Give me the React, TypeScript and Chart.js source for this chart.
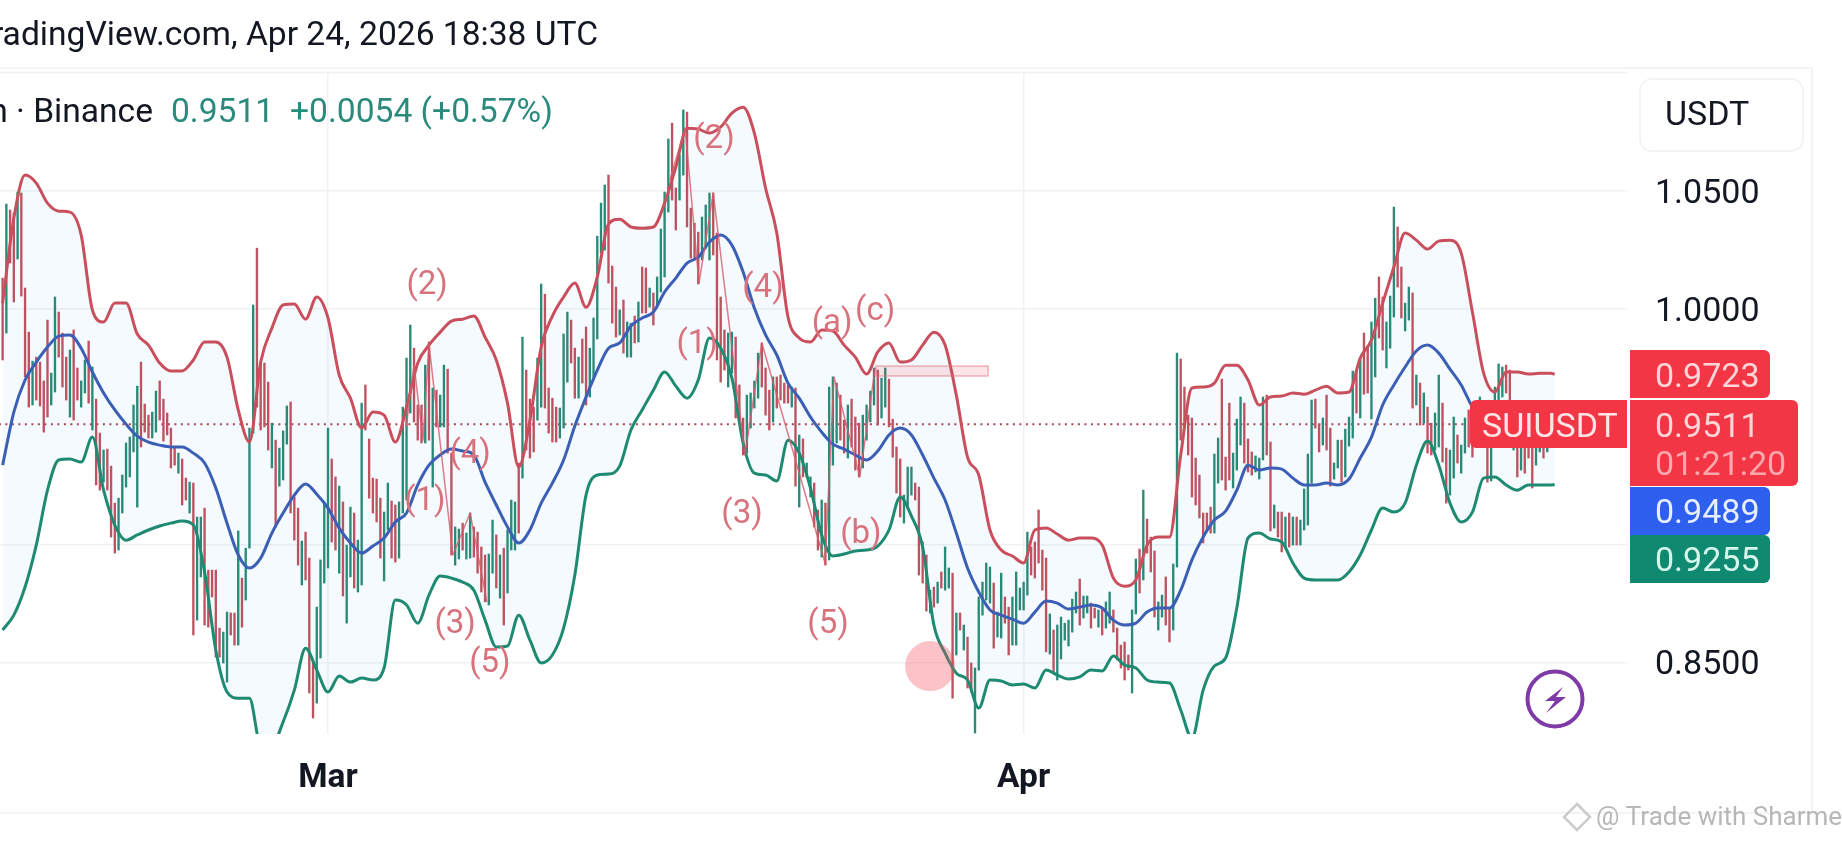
import React, { useEffect, useRef } from "react";
import { Chart, registerables } from "chart.js";

Chart.register(...registerables);

const firstBar = -87; // bars are 4h apart, counted from 1 Mar
const barHigh = [
1.0131,1.0445,1.0420,1.0407,1.0496,1.0492,1.0089,.9902,.9779,.9796,
.9775,.9695,.9953,.9728,1.0051,.9987,.9898,.9796,.9826,.9911,
.9750,.9695,.9784,.9864,.9754,.9618,.9474,.9402,.9406,.9334,
.9177,.9198,.9296,.9432,.9457,.9593,.9673,.9775,.9597,.9550,
.9563,.9652,.9695,.9618,.9559,.9495,.9415,.9389,.9364,.9283,
.9266,.9262,.9118,.9118,.9156,.8893,.8893,.8893,.8647,.8630,
.8715,.8711,.8711,.9059,.8859,.8986,.9495,1.0017,1.0258,.9775,
.9771,.9690,.9516,.9444,.9410,.9483,.9589,.9606,.9203,.9156,
.9016,.9054,.8944,.8499,.8736,.8936,.9177,.9495,.9364,.9288,
.9249,.9182,.8999,.9160,.9135,.9020,.9601,.9678,.9449,.9283,
.9279,.9198,.9139,.9262,.9186,.9169,.9182,.9584,.9792,.9932,
.9834,.9593,.9593,.9762,.9860,.9665,.9656,.9635,.9762,.9745,
.9389,.9076,.9067,.9092,.9050,.9135,.9076,.9054,.8991,.8957,
.8961,.9105,.9042,.8957,.8986,.9063,.9190,.9182,.9347,.9881,
.9741,.9618,.9584,.9792,1.0106,1.0063,.9665,.9622,.9584,.9580,
.9894,.9987,.9953,.9834,.9796,.9873,.9924,.9834,.9962,1.0309,
1.0449,1.0526,1.0568,1.0182,1.0093,.9996,1.0038,.9945,.9940,.9970,
1.0030,1.0178,1.0174,1.0089,1.0068,1.0136,1.0339,1.0496,1.0721,1.0788,
1.0513,1.0653,1.0844,1.0835,1.0428,1.0364,1.0326,1.0390,1.0441,1.0492,
1.0492,1.0322,1.0051,.9911,.9898,.9902,.9881,.9678,.9538,.9635,
.9644,.9695,.9813,.9856,.9750,.9656,.9712,.9712,.9720,.9686,
.9678,.9669,.9665,.9466,.9449,.9347,.9288,.9262,.9148,.9190,
.9177,.9669,.9712,.9686,.9635,.9529,.9593,.9618,.9542,.9516,
.9550,.9593,.9652,.9750,.9741,.9707,.9750,.9703,.9533,.9415,
.9364,.9211,.9330,.9330,.9262,.9245,.9012,.8957,.8808,.8821,
.8842,.8885,.8991,.8902,.8880,.8711,.8711,.8660,.8609,.8499,
.8478,.8779,.8842,.8923,.8906,.8838,.8715,.8880,.8779,.8736,
.8779,.8885,.8817,.8842,.9054,.8991,.9012,.9148,.8978,.8944,
.8707,.8639,.8660,.8694,.8668,.8681,.8770,.8800,.8855,.8783,
.8783,.8753,.8732,.8724,.8732,.8758,.8800,.8724,.8647,.8575,
.8588,.8533,.8724,.8940,.8982,.9232,.9109,.9033,.8974,.8758,
.8787,.8864,.8732,.8919,.9813,.9788,.9669,.9550,.9538,.9368,
.9296,.9135,.9135,.9160,.9385,.9453,.9703,.9372,.9601,.9389,
.9533,.9627,.9601,.9449,.9394,.9377,.9368,.9627,.9635,.9436,
.9169,.9139,.9139,.9118,.9135,.9118,.9118,.9105,.9237,.9385,
.9614,.9618,.9512,.9538,.9635,.9495,.9347,.9444,.9444,.9491,
.9542,.9737,.9733,.9784,.9898,.9839,.9945,1.0046,1.0136,1.0051,
.9945,1.0055,1.0432,1.0348,1.0178,1.0025,1.0093,1.0068,.9720,.9686,
.9644,.9584,.9516,.9559,.9720,.9601,.9410,.9402,.9542,.9466,
.9423,.9538,.9572,.9516,.9601,.9627,.9572,.9516,.9584,.9669,
.9767,.9754,.9762,.9741,.9572,.9508,.9508,.9487,.9487,.9487,
.9487,.9466,.9487,.9466,.9512];
const barLow = [
.9784,.9898,1.0195,1.0030,1.0212,1.0055,.9712,.9584,.9593,.9614,
.9589,.9478,.9542,.9593,.9648,.9796,.9669,.9614,.9542,.9529,
.9614,.9584,.9644,.9601,.9487,.9254,.9232,.9266,.9232,.9033,
.8965,.8978,.9135,.9245,.9288,.9394,.9160,.9415,.9478,.9453,
.9453,.9478,.9529,.9440,.9466,.9326,.9338,.9304,.9169,.9190,
.9135,.8618,.8681,.8864,.8660,.8651,.8779,.8524,.8524,.8499,
.8418,.8618,.8575,.8575,.8651,.8766,.8986,.9474,.9584,.9487,
.9500,.9402,.9326,.9076,.9249,.9275,.9427,.9135,.9020,.8914,
.8830,.8851,.8372,.8266,.8329,.8520,.8838,.8902,.9012,.8978,
.8880,.8783,.8668,.8864,.8817,.8800,.8830,.9487,.9198,.9135,
.9097,.8944,.8847,.9063,.8944,.8927,.8944,.9135,.9190,.9559,
.9521,.9444,.9432,.9432,.9444,.9245,.9500,.9500,.9500,.9389,
.8957,.8914,.8940,.8978,.8940,.8944,.8948,.8880,.8800,.8758,
.8745,.8880,.8817,.8774,.8660,.8796,.8978,.8978,.9050,.9283,
.9402,.9368,.9394,.9529,.9584,.9580,.9474,.9436,.9436,.9453,
.9495,.9690,.9771,.9622,.9622,.9686,.9593,.9627,.9712,.9873,
1.0237,1.0250,1.0110,.9940,.9881,.9890,.9813,.9796,.9796,.9856,
.9860,.9983,.9983,1.0008,.9932,1.0008,1.0072,1.0136,1.0411,1.0462,
1.0335,1.0462,1.0568,1.0348,1.0216,1.0216,1.0106,1.0208,1.0258,1.0208,
1.0229,.9784,.9690,.9741,.9669,.9728,.9538,.9538,.9381,.9389,
.9495,.9580,.9622,.9669,.9550,.9487,.9521,.9580,.9614,.9601,
.9601,.9584,.9249,.9160,.9288,.9288,.9203,.9076,.8978,.8948,
.8914,.8936,.9338,.9432,.9444,.9389,.9368,.9415,.9317,.9288,
.9326,.9444,.9521,.9593,.9508,.9538,.9584,.9500,.9372,.9220,
.9118,.9092,.9156,.9211,.9190,.8872,.8838,.8719,.8711,.8736,
.8753,.8817,.8808,.8817,.8350,.8533,.8639,.8554,.8393,.8376,
.8202,.8469,.8702,.8766,.8753,.8562,.8609,.8605,.8668,.8533,
.8575,.8575,.8724,.8724,.8787,.8872,.8859,.8923,.8808,.8546,
.8537,.8456,.8427,.8516,.8596,.8571,.8630,.8711,.8660,.8690,
.8711,.8647,.8690,.8651,.8618,.8647,.8668,.8630,.8512,.8478,
.8427,.8469,.8372,.8707,.8796,.8851,.8965,.8885,.8694,.8639,
.8694,.8660,.8588,.8639,.8906,.9444,.9500,.9381,.9203,.9169,
.9114,.9008,.9063,.9050,.9050,.9262,.9275,.9232,.9275,.9241,
.9317,.9423,.9347,.9309,.9296,.9309,.9279,.9360,.9381,.9059,
.9071,.9033,.8970,.8991,.8991,.8999,.8999,.8999,.9063,.9084,
.9262,.9495,.9394,.9423,.9402,.9249,.9279,.9326,.9266,.9288,
.9419,.9453,.9559,.9538,.9639,.9644,.9534,.9712,.9877,.9826,
.9750,.9834,.9966,1.0093,.9962,.9907,.9953,.9580,.9593,.9508,
.9516,.9389,.9381,.9402,.9415,.9351,.9177,.9211,.9283,.9347,
.9304,.9389,.9415,.9372,.9415,.9516,.9444,.9266,.9271,.9516,
.9584,.9627,.9644,.9444,.9402,.9288,.9317,.9304,.9368,.9241,
.9338,.9394,.9368,.9394,.9423];
const barUp = [
0,1,0,0,1,0,0,0,1,0, 0,0,0,1,1,0,0,0,1,0, 0,1,1,0,1,0,0,1,0,0, 0,1,1,1,1,1,1,0,0,0,
1,1,0,0,0,0,0,1,0,0, 1,0,1,1,0,0,0,0,0,1, 1,0,0,1,0,1,1,1,0,0, 0,0,1,0,1,1,1,0,0,0,
1,0,0,0,1,1,1,1,0,0, 1,0,1,1,0,1,1,0,0,0, 0,0,1,1,0,0,1,1,1,1, 0,0,0,1,0,1,0,1,1,0,
0,1,1,0,1,1,0,0,0,0, 1,1,0,1,0,1,1,1,0,1, 0,0,0,1,1,0,0,0,0,1, 1,1,0,0,1,0,0,1,1,1,
1,1,0,0,0,1,0,1,1,0, 1,0,0,1,0,1,1,1,1,0, 0,1,1,0,0,0,0,1,1,1, 0,0,0,0,1,1,0,0,0,1,
1,1,1,0,0,0,1,0,0,0, 0,1,0,1,0,1,1,0,0,1, 0,1,1,1,0,0,1,0,0,0, 1,1,1,1,0,1,1,0,0,0,
0,1,1,1,0,0,0,0,1,0, 1,0,1,1,0,1,0,1,0,0, 1,1,1,1,1,0,1,1,0,0, 1,1,1,1,1,0,0,0,0,0,
1,0,1,1,1,1,1,1,0,1, 1,0,0,1,0,1,1,0,0,0, 0,0,1,1,0,1,0,0,0,1, 1,0,0,1,1,0,0,0,0,0,
0,0,0,0,1,1,0,0,0,1, 1,1,0,0,0,1,1,1,0,0, 1,0,0,1,0,1,0,1,1,1, 1,0,0,1,0,0,1,1,0,1,
1,1,0,1,0,0,1,1,0,0, 1,1,1,0,0,1,1,0,1,0, 1,0,0,1,1,0,0,1,1,0, 1,1,0,0,1,1,1,0,1,1,
1,1,0,0,1,0,1,0,0,0, 1,1,0,1,1];

const bandUpper = [
1.0025,1.0386,1.0568,1.0534,1.0449,1.0415,1.0411,1.0314,.9996,.9945,
1.0025,1.0025,.9894,.9847,.9771,.9737,.9737,.9784,.9860,.9860,
.9796,.9572,.9436,.9775,.9919,1.0017,1.0021,.9957,1.0051,.9962,
.9720,.9622,.9495,.9563,.9550,.9436,.9584,.9771,.9847,.9902,
.9949,.9957,.9970,.9881,.9784,.9601,.9330,.9529,.9839,.9970,
1.0051,1.0110,1.0008,1.0136,1.0360,1.0381,1.0348,1.0343,1.0348,1.0449,
1.0602,1.0767,1.0763,1.0746,1.0772,1.0831,1.0856,1.0746,1.0513,1.0322,
.9966,.9877,.9860,.9911,.9907,.9847,.9796,.9724,.9818,.9856,
.9775,.9784,.9847,.9902,.9847,.9635,.9372,.9296,.9063,.8978,
.8953,.8923,.9063,.9071,.9046,.9020,.9029,.9029,.8999,.8859,
.8825,.8851,.8999,.9033,.9033,.9381,.9665,.9669,.9686,.9762,
.9762,.9699,.9593,.9627,.9631,.9644,.9639,.9656,.9673,.9644,
.9648,.9792,.9868,1.0025,1.0178,1.0322,1.0292,1.0254,1.0288,1.0292,
1.0237,.9987,.9728,.9648,.9733,.9733,.9724,.9728,.9728,.9723];
const bandBasis = [
.9338,.9563,.9699,.9775,.9839,.9885,.9890,.9834,.9733,.9644,
.9572,.9512,.9461,.9436,.9423,.9415,.9415,.9389,.9347,.9241,
.9092,.8957,.8902,.8944,.9050,.9135,.9211,.9258,.9215,.9156,
.9071,.9008,.8965,.8995,.9029,.9097,.9135,.9254,.9338,.9381,
.9406,.9398,.9381,.9266,.9169,.9076,.9008,.9063,.9177,.9262,
.9360,.9504,.9627,.9741,.9834,.9856,.9928,.9962,.9987,1.0072,
1.0131,1.0195,1.0220,1.0284,1.0314,1.0271,1.0157,1.0004,.9890,.9805,
.9686,.9622,.9542,.9478,.9427,.9406,.9381,.9360,.9398,.9466,
.9495,.9466,.9381,.9283,.9190,.9050,.8902,.8800,.8724,.8702,
.8685,.8668,.8715,.8762,.8753,.8728,.8736,.8745,.8732,.8681,
.8660,.8668,.8715,.8732,.8732,.8808,.8936,.9033,.9105,.9143,
.9232,.9338,.9317,.9326,.9321,.9283,.9254,.9254,.9262,.9254,
.9279,.9368,.9457,.9593,.9678,.9754,.9822,.9847,.9813,.9745,
.9678,.9584,.9529,.9495,.9483,.9483,.9487,.9487,.9489,.9489];
const bandLower = [
.8639,.8702,.8821,.8999,.9232,.9360,.9364,.9351,.9457,.9232,
.9084,.9020,.9042,.9063,.9080,.9092,.9101,.9084,.8885,.8554,
.8376,.8350,.8350,.8151,.8151,.8249,.8384,.8562,.8469,.8376,
.8444,.8418,.8435,.8427,.8478,.8766,.8745,.8668,.8787,.8868,
.8859,.8842,.8808,.8681,.8567,.8571,.8702,.8596,.8499,.8533,
.8647,.8872,.9211,.9296,.9300,.9334,.9487,.9572,.9656,.9733,
.9673,.9622,.9699,.9877,.9834,.9707,.9432,.9304,.9296,.9271,
.9444,.9389,.9241,.9042,.8953,.8961,.8974,.8978,.8995,.9063,
.9203,.9122,.8991,.8660,.8541,.8456,.8427,.8308,.8427,.8423,
.8406,.8410,.8393,.8469,.8448,.8431,.8440,.8469,.8465,.8529,
.8490,.8478,.8427,.8418,.8414,.8300,.8181,.8384,.8486,.8520,
.8732,.9029,.9050,.9025,.9012,.8923,.8859,.8851,.8851,.8851,
.8885,.8957,.9063,.9156,.9139,.9177,.9338,.9440,.9338,.9177,
.9097,.9139,.9283,.9288,.9254,.9232,.9254,.9254,.9254,.9255];

const waveOneX = [20.9, 23, 25.4, 27, 33.4, 38, 42.5];
const waveOneY = [.9500, .9762, .9444, .9851, .8957, .9135, .8758];
const waveTwoX = [91.4, 95.5, 99.2, 103, 111.5, 116, 132.9, 135.3, 142.2, 146.3];
const waveTwoY = [1.0547, 1.0767, 1.0110, 1.0492, .9381, .9856, .8923, .9712, .9288, .9750];

const waveText = ["(2)", "(1)", "(4)", "(3)", "(5)", "(2)", "(1)", "(4)", "(3)", "(a)", "(c)", "(b)", "(5)"];
const waveTextX = [26.5, 25.9, 38, 34, 43.3, 103.2, 98.7, 116.3, 110.7, 134.8, 146.3, 142.5, 133.7];
const waveTextY = [1.0106, .9190, .9389, .8668, .8503, 1.0725, .9856, 1.0093, .9135, .9945, .9996, .9050, .8668];

const lastPrice = 0.9511;
const yTicks = [0.85, 0.9, 1.0, 1.05];
const timeTicks = [0, 186];
const timeLabels = ["Mar", "Apr"];
const zoneX = [146.5, 176.5];
const zoneY = [0.9758, 0.9716];
const markerX = 161;
const markerY = 0.8486;

const FONT = "Roboto, sans-serif";
const RED = "#c94f5d";
const GREEN = "#1f8a72";
const BLUE = "#3c5fb6";
const BAR_RED = "#bd5360";
const BAR_GREEN = "#2a8a78";
const GRID = "#f0f1f3";

function rr(ctx: CanvasRenderingContext2D, x: number, y: number, w: number, h: number, r: number[]) {
  ctx.beginPath();
  ctx.roundRect(x, y, w, h, r);
}

function tag(ctx: CanvasRenderingContext2D, x: number, y: number, w: number, h: number, fill: string, r: number[]) {
  ctx.fillStyle = fill;
  rr(ctx, x, y, w, h, r);
  ctx.fill();
}

const overlay = {
  id: "overlay",
  afterDatasetsDraw(chart: any) {
    const { ctx, scales, chartArea } = chart;
    const sx = scales.x;
    const sy = scales.y;
    ctx.save();
    ctx.beginPath();
    ctx.rect(chartArea.left, chartArea.top, chartArea.right - chartArea.left, chartArea.bottom - chartArea.top);
    ctx.clip();
    // zone
    const zx0 = sx.getPixelForValue(zoneX[0]);
    const zx1 = sx.getPixelForValue(zoneX[1]);
    const zy0 = sy.getPixelForValue(zoneY[0]);
    const zy1 = sy.getPixelForValue(zoneY[1]);
    ctx.fillStyle = "rgba(242,54,69,0.13)";
    ctx.fillRect(zx0, zy0, zx1 - zx0, zy1 - zy0);
    ctx.strokeStyle = "rgba(226,120,130,0.55)";
    ctx.lineWidth = 1.5;
    ctx.strokeRect(zx0, zy0, zx1 - zx0, zy1 - zy0);
    // marker
    ctx.fillStyle = "rgba(242,80,90,0.34)";
    ctx.beginPath();
    ctx.arc(sx.getPixelForValue(markerX), sy.getPixelForValue(markerY), 25, 0, Math.PI * 2);
    ctx.fill();
    // wave labels
    ctx.font = `400 33px ${FONT}`;
    ctx.fillStyle = "#d8737e";
    ctx.textAlign = "center";
    ctx.textBaseline = "middle";
    waveText.forEach((t, i) => {
      ctx.fillText(t, sx.getPixelForValue(waveTextX[i]), sy.getPixelForValue(waveTextY[i]) + 2);
    });
    ctx.restore();
  },
  afterDraw(chart: any) {
    const { ctx, chartArea } = chart;
    ctx.save();
    // frame
    ctx.strokeStyle = GRID;
    ctx.lineWidth = 1.5;
    ctx.beginPath();
    ctx.moveTo(0, 68); ctx.lineTo(1812, 68);
    ctx.moveTo(0, 72.5); ctx.lineTo(chartArea.right, 72.5);
    ctx.moveTo(0, 813); ctx.lineTo(1812, 813);
    ctx.moveTo(1812, 68); ctx.lineTo(1812, 813);
    ctx.stroke();

    ctx.textBaseline = "middle";
    ctx.textAlign = "left";
    // title
    ctx.font = `400 33.6px ${FONT}`;
    ctx.fillStyle = "#131722";
    ctx.textAlign = "right";
    ctx.fillText("radingView.com, Apr 24, 2026 18:38 UTC", 598, 37);
    ctx.fillText("n · Binance", 153, 114);
    ctx.textAlign = "left";
    ctx.fillStyle = "#2a8a7c";
    ctx.fillText("0.9511", 171, 114);
    ctx.fillText("+0.0054 (+0.57%)", 290, 114);

    // currency box
    ctx.strokeStyle = "#f0f1f3";
    ctx.lineWidth = 1.5;
    rr(ctx, 1640, 79, 163, 72, [12, 12, 12, 12]);
    ctx.fillStyle = "#ffffff";
    ctx.fill();
    ctx.stroke();
    ctx.fillStyle = "#131722";
    ctx.font = `400 34px ${FONT}`;
    ctx.fillText("USDT", 1665, 116);

    // price tags
    tag(ctx, 1630, 350, 140, 48, "#f23645", [0, 6, 6, 0]);
    tag(ctx, 1470, 400, 157, 48, "#f23645", [6, 0, 0, 6]);
    tag(ctx, 1630, 400, 168, 86, "#f23645", [0, 6, 6, 0]);
    tag(ctx, 1630, 487, 140, 48, "#2f5fee", [0, 6, 6, 0]);
    tag(ctx, 1630, 535, 140, 48, "#0f8a70", [0, 6, 6, 0]);
    ctx.fillStyle = "#ffd5d8";
    ctx.fillText("0.9723", 1655, 378);
    ctx.fillText("0.9511", 1655, 428);
    ctx.fillStyle = "#ffe3e5";
    ctx.fillText("SUIUSDT", 1482, 428);
    ctx.fillStyle = "#fba7ae";
    ctx.fillText("01:21:20", 1655, 466);
    ctx.fillStyle = "#e6eeff";
    ctx.fillText("0.9489", 1655, 514);
    ctx.fillStyle = "#d6f5ec";
    ctx.fillText("0.9255", 1655, 562);

    // lightning badge
    ctx.strokeStyle = "#7e3aa6";
    ctx.fillStyle = "#7e3aa6";
    ctx.lineWidth = 4;
    ctx.beginPath();
    ctx.arc(1555, 699, 27.5, 0, Math.PI * 2);
    ctx.stroke();
    ctx.beginPath();
    ctx.moveTo(1563, 687);
    ctx.lineTo(1545, 701);
    ctx.lineTo(1555, 701);
    ctx.lineTo(1546, 713);
    ctx.lineTo(1566, 697);
    ctx.lineTo(1556, 697);
    ctx.closePath();
    ctx.fill();

    // watermark
    ctx.font = `400 26px ${FONT}`;
    ctx.fillStyle = "rgba(170,170,170,0.85)";
    ctx.fillText("@ Trade with Sharme", 1596, 818);
    ctx.strokeStyle = "rgba(190,190,190,0.8)";
    ctx.lineWidth = 2.5;
    ctx.beginPath();
    ctx.moveTo(1577, 804); ctx.lineTo(1590, 817); ctx.lineTo(1577, 830); ctx.lineTo(1564, 817);
    ctx.closePath();
    ctx.stroke();
    ctx.restore();
  },
};

export default function App() {
  const ref = useRef<HTMLCanvasElement | null>(null);
  useEffect(() => {
    if (!ref.current) return;
    const bars = barHigh.map((h, i) => ({ x: firstBar + i, y: [barLow[i], h] }));
    const band = (vals: number[]) => vals.map((y, k) => ({ x: Math.min(firstBar + 3 * k, 328), y }));
    const zip = (xs: number[], ys: number[]) => xs.map((x, i) => ({ x, y: ys[i] }));
    const line = { type: "line", pointRadius: 0, fill: false, tension: 0, borderJoinStyle: "round" };
    const smooth = { ...line, cubicInterpolationMode: "monotone", borderWidth: 3 };
    const chart = new Chart(ref.current, {
      type: "bar",
      data: {
        datasets: [
          { ...smooth, label: "Upper", data: band(bandUpper), borderColor: RED, fill: { target: 2 }, backgroundColor: "rgba(120,190,245,0.08)", order: 1 },
          { ...smooth, label: "Basis", data: band(bandBasis), borderColor: BLUE, order: 1 },
          { ...smooth, label: "Lower", data: band(bandLower), borderColor: GREEN, order: 1 },
          { ...line, label: "Wave A", data: zip(waveOneX, waveOneY), borderColor: "rgba(216,90,105,0.8)", borderWidth: 1.5, order: 0 },
          { ...line, label: "Wave B", data: zip(waveTwoX, waveTwoY), borderColor: "rgba(216,90,105,0.8)", borderWidth: 1.5, order: 0 },
          { ...line, label: "Last", data: [{ x: firstBar - 1, y: lastPrice }, { x: 305, y: lastPrice }], borderColor: "#a8444f", borderWidth: 2, borderDash: [2, 4.5], order: 6 },
          { type: "bar", label: "SUIUSDT", data: bars, backgroundColor: barUp.map((u) => (u ? BAR_GREEN : BAR_RED)), barThickness: 1.7, grouped: false, borderSkipped: false, order: 5 },
        ] as any,
      },
      options: {
        responsive: false,
        animation: false,
        devicePixelRatio: 1,
        layout: { padding: { top: 72, left: 0, right: 0, bottom: 0 } },
        plugins: { legend: { display: false }, tooltip: { enabled: false }, filler: { drawTime: "beforeDatasetsDraw" } as any },
        scales: {
          x: {
            type: "linear",
            min: -87.7,
            max: 347.33,
            offset: false,
            border: { display: false },
            grid: { color: GRID, lineWidth: 1.5, drawTicks: false, offset: false },
            afterFit: (s: any) => { s.height = 108; },
            afterBuildTicks: (s: any) => { s.ticks = timeTicks.map((value) => ({ value })); },
            ticks: {
              autoSkip: false,
              maxRotation: 0,
              padding: 25,
              color: "#131722",
              font: { family: FONT, size: 33.5, weight: "bold" },
              callback: (v: any) => timeLabels[timeTicks.indexOf(Number(v))] ?? "",
            },
          },
          y: {
            type: "linear",
            position: "right",
            min: 0.8198,
            max: 1.1005,
            border: { display: false },
            grid: { color: GRID, lineWidth: 1.5, drawTicks: false },
            afterFit: (s: any) => { s.width = 215; },
            afterBuildTicks: (s: any) => { s.ticks = yTicks.map((value) => ({ value })); },
            ticks: {
              padding: 28,
              labelOffset: 3,
              color: "#131722",
              font: { family: FONT, size: 34 },
              callback: (v: any) => Number(v).toFixed(4),
            },
          },
        },
      } as any,
      plugins: [overlay],
    });
    return () => chart.destroy();
  }, []);
  return (
    <canvas
      ref={ref}
      width={1842}
      height={842}
      style={{ position: "fixed", left: 0, top: 0, width: 1842, height: 842, background: "#fff" }}
    />
  );
}
